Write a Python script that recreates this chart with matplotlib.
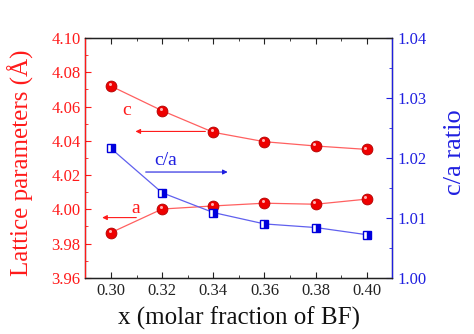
import matplotlib
matplotlib.use("Agg")
import matplotlib.pyplot as plt
from matplotlib.ticker import MultipleLocator, AutoMinorLocator
from matplotlib.transforms import offset_copy

x = [0.30, 0.32, 0.34, 0.36, 0.38, 0.40]
c_param = [4.072, 4.0576, 4.045, 4.0395, 4.037, 4.035]
a_param = [3.9864, 4.0002, 4.002, 4.0036, 4.003, 4.006]
c_over_a = [1.0216, 1.0142, 1.0109, 1.0090, 1.0084, 1.0072]

plt.rcParams['font.family'] = ['Liberation Serif', 'DejaVu Serif']
RED = '#ff1a1a'
BLUE = '#1f1fe0'

fig, ax = plt.subplots(figsize=(4.74, 3.34), dpi=100)
fig.subplots_adjust(left=0.18, right=0.828, top=0.886, bottom=0.168)
ax2 = ax.twinx()

# lattice parameters (red spheres)
for ys in (c_param, a_param):
    ax.plot(x, ys, '-', color='#ff6060', lw=0.9, zorder=2)
    ax.plot(x, ys, 'o', ms=7.8, color='#ee0000', mec='#b00000', mew=0.6, zorder=3)
    hl = offset_copy(ax.transData, fig=fig, x=-1.0, y=1.3, units='points')
    ax.plot(x, ys, 'o', ms=2.2, color='#ffb0b0', mew=0, transform=hl, zorder=4)

# c/a ratio (half filled squares)
ax2.plot(x, c_over_a, '-', color='#6060ee', lw=0.9, zorder=2)
ax2.plot(x, c_over_a, 's', ms=5.8, color='#0000dd', mec='#0000dd',
         mfc='#0000dd', mfcalt='white', fillstyle='right', mew=1.0, zorder=3)

ax.set_xlim(0.29, 0.41)
ax.set_ylim(3.96, 4.10)
ax2.set_ylim(1.00, 1.04)

ax.xaxis.set_major_locator(MultipleLocator(0.02))
ax.xaxis.set_minor_locator(AutoMinorLocator(2))
ax.yaxis.set_major_locator(MultipleLocator(0.02))
ax.yaxis.set_minor_locator(AutoMinorLocator(2))
ax2.yaxis.set_major_locator(MultipleLocator(0.01))
ax2.yaxis.set_minor_locator(AutoMinorLocator(2))
ax.xaxis.set_major_formatter(plt.FormatStrFormatter('%.2f'))
ax.yaxis.set_major_formatter(plt.FormatStrFormatter('%.2f'))
ax2.yaxis.set_major_formatter(plt.FormatStrFormatter('%.2f'))

ax.tick_params(axis='x', which='both', direction='in', top=True, labelsize=12,
               colors='#222222')
ax.tick_params(axis='x', which='major', length=4)
ax.tick_params(axis='x', which='minor', length=2.5)
ax.tick_params(axis='y', which='both', direction='in', colors=RED, labelsize=12)
ax.tick_params(axis='y', which='major', length=4)
ax.tick_params(axis='y', which='minor', length=2.5)
ax2.tick_params(axis='y', which='both', direction='in', colors=BLUE, labelsize=12)
ax2.tick_params(axis='y', which='major', length=4)
ax2.tick_params(axis='y', which='minor', length=2.5)

ax2.spines['left'].set_color(RED)
ax2.spines['right'].set_color(BLUE)
ax2.spines['top'].set_color('#222222')
ax2.spines['bottom'].set_color('#222222')
for s in ax.spines.values():
    s.set_linewidth(0.9)
for s in ax2.spines.values():
    s.set_linewidth(0.9)

ax.set_xlabel('x (molar fraction of BF)', fontsize=18, color='#111111', labelpad=6)
ax.set_ylabel('Lattice parameters (Å)', fontsize=18, color=RED)
ax2.set_ylabel('c/a ratio', fontsize=19, color=BLUE)
ax.yaxis.set_label_coords(-0.168, 0.479)
ax2.yaxis.set_label_coords(1.1665, 0.525)

# labels with arrows
ax.text(0.306, 4.058, 'c', color=RED, fontsize=14, ha='center', va='center')
ax.annotate('', xy=(0.3085, 4.0455), xytext=(0.338, 4.0455),
            arrowprops=dict(arrowstyle='-|>', color=RED, lw=0.8, mutation_scale=7))
ax.text(0.3095, 4.0005, 'a', color=RED, fontsize=14, ha='center', va='center')
ax.annotate('', xy=(0.2955, 3.9952), xytext=(0.311, 3.9952),
            arrowprops=dict(arrowstyle='-|>', color=RED, lw=0.8, mutation_scale=7))
ax.text(0.3215, 4.0285, 'c/a', color=BLUE, fontsize=14, ha='center', va='center')
ax.annotate('', xy=(0.3467, 4.0218), xytext=(0.3125, 4.0218),
            arrowprops=dict(arrowstyle='-|>', color=BLUE, lw=0.8, mutation_scale=7))

fig.savefig('out.png', dpi=100)
